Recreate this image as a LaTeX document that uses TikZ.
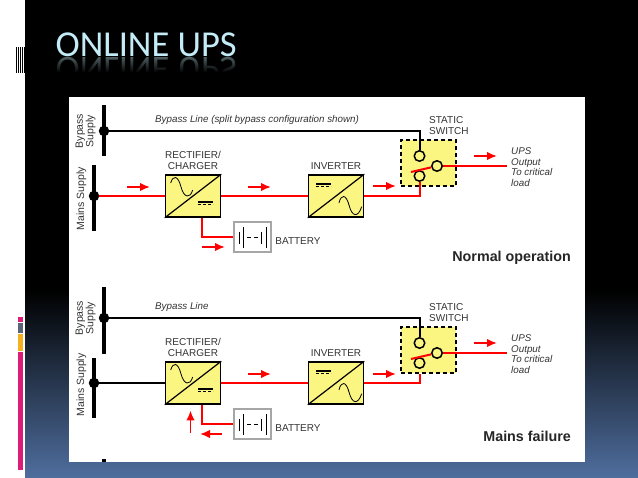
\documentclass[tikz,border=0pt]{standalone}
\usepackage{fontspec}
\setmainfont{Liberation Sans}
\newfontfamily\titlefont{Carlito}
\usetikzlibrary{positioning,arrows.meta,fadings}
\definecolor{boxyellow}{HTML}{FBF582}
\definecolor{labelgrey}{HTML}{333333}
\definecolor{titleblue}{HTML}{C4ECF6}
\definecolor{slateblue}{HTML}{4F6E9E}
\definecolor{barpink}{HTML}{DC1C78}
\definecolor{bargrey}{HTML}{5A6478}
\definecolor{barorange}{HTML}{F5B21E}
\tikzset{
  convbox/.style={draw=black,fill=boxyellow,line width=1.5pt,minimum width=55pt,minimum height=42pt,inner sep=0pt},
  swbox/.style={draw=black,fill=boxyellow,line width=1.5pt,dash pattern=on 4pt off 3pt,minimum width=55pt,minimum height=46pt,inner sep=0pt},
  battbox/.style={draw=black!35,fill=white,line width=1.4pt,minimum width=37pt,minimum height=30pt,inner sep=0pt},
  contact/.style={circle,draw=black,fill=boxyellow,line width=1.5pt,minimum size=10.5pt,inner sep=0pt},
  busdot/.style={circle,fill=black,minimum size=10.5pt,inner sep=0pt},
  busbar/.style={line width=3.4pt},
  wire/.style={line width=2pt},
  flow/.style={red,line width=1.8pt,-{Latex[length=10pt,width=8.5pt]}},
  lbl/.style={text=labelgrey,inner sep=0pt,font=\fontsize{10}{11}\selectfont},
  itlbl/.style={lbl,font=\fontsize{9.8}{10.6}\selectfont\itshape},
  headlbl/.style={text=black!85,inner sep=0pt,font=\fontsize{14.3}{16}\selectfont\bfseries}
}
\begin{document}
\begin{tikzpicture}[x=1pt,y=-1pt]
\useasboundingbox (0,0) rectangle (638,478);
% slide background
\fill[white] (0,0) rectangle (638,478);
\fill[black] (25,0) rectangle (638,290);
\shade[top color=black,bottom color=slateblue] (25,290) rectangle (638,478);
\foreach \x in {15.5,17.5,...,24}
\fill[black] (\x,47) rectangle +(1.1,26);
\fill[barpink] (18,317) rectangle (23,322);
\fill[bargrey] (18,323) rectangle (23,333);
\fill[barorange] (18,334) rectangle (23,351);
\fill[barpink] (18,352) rectangle (23,470);
% title and its reflection
\node[anchor=west,inner sep=0pt,text=titleblue,font=\fontsize{36.5}{40}\selectfont\titlefont] (title) at (55.5,45) {ONLINE UPS};
\node[anchor=west,inner sep=0pt,text=titleblue!40!black,yscale=-1,transform shape,font=\fontsize{36.5}{40}\selectfont\titlefont] (mirror) at (55.5,69) {ONLINE UPS};
\fill[black] (50,72) rectangle (245,85);
\fill[black,path fading=north] (50,57) rectangle (245,72.5);
% panel
\fill[white] (69,97) rectangle (585,462);
\foreach \k/\dy/\col/\ends in {a/0/red/swlow,b/187/black/swbot}{
\begin{scope}[yshift=-\dy pt]
\node[busdot] (bydot\k) at (104,131) {};
\node[busdot] (mdot\k) at (94,196) {};
\node[convbox] (rect\k) at (193,196) {};
\node[convbox] (inv\k) at (336,196) {};
\node[battbox] (batt\k) at (252.5,237) {};
\node[swbox] (sw\k) at (428.5,163) {};
\node[contact] (swup\k) at (419.5,156) {};
\node[contact] (swlow\k) at (419.5,176) {};
\node[contact] (swout\k) at (437,166) {};
\coordinate (swbot\k) at (sw\k.south -| swlow\k);
\coordinate (arm\k) at (411,172);
\coordinate (load\k) at (507,166);
\draw[wire] (bydot\k) -| (swup\k);
\draw[wire,\col] (mdot\k) -- (rect\k);
\draw[wire,red] (rect\k) -- (inv\k);
\draw[wire,red] (inv\k) -| (\ends\k);
\draw[wire,red] ([xshift=9pt]rect\k.south) |- (batt\k);
\draw[wire,red] (arm\k) -- (swout\k);
\draw[wire,red] (swout\k) -- (load\k);
% rectifier and inverter symbols
\draw[line width=1.2pt] (rect\k.south west) -- (rect\k.north east);
\draw[line width=1.2pt] (inv\k.south west) -- (inv\k.north east);
\draw[line width=.8pt] (170.7,183) .. controls (173,175) and (178,175) .. (181,187) .. controls (184,198) and (190,199) .. (192.7,190);
\draw[line width=.8pt] (339,203) .. controls (341,194) and (346,194) .. (349,205) .. controls (352,217) and (358,218) .. (361.7,206.7);
\foreach \x/\y in {198/202,316/184}{
\draw[line width=1.4pt] (\x,\y) -- +(15,0);
\draw[line width=1pt,dash pattern=on 3pt off 2pt] (\x,\y+2.8) -- +(15,0);
}
% battery symbol
\draw[line width=1pt] (239,232) -- (239,244);
\draw[line width=1.5pt] (243.7,227) -- (243.7,248);
\draw[line width=.9pt,dash pattern=on 4pt off 3pt] (247,237) -- (258,237);
\draw[line width=1pt] (261,232) -- (261,244);
\draw[line width=1.5pt] (266.7,227) -- (266.7,248);
% labels
\node[lbl,align=center,above=4.5pt of rect\k] (rectlbl\k) {RECTIFIER/\\CHARGER};
\node[lbl,above=4.5pt of inv\k] (invlbl\k) {INVERTER};
\node[lbl,right=3.5pt of batt\k,yshift=-4pt] (battlbl\k) {BATTERY};
\node[lbl,align=left,anchor=south west] (swlbl\k) at (429,135) {STATIC\\SWITCH};
\node[itlbl,align=left,anchor=west] (uplbl\k) at (511,167) {UPS\\Output\\To critical\\load};
\end{scope}
}
% what differs between the two cases
\draw[busbar] (104,105) -- (104,156.5);
\draw[busbar] (94,165) -- (94,231.5);
\draw[busbar] (104,287) -- (104,354);
\draw[busbar] (94,358) -- (94,418.5);
\draw[busbar] (104,459) -- (104,462);
\node[itlbl,anchor=west] (bylbla) at (155,120) {Bypass Line (split bypass configuration shown)};
\node[itlbl,anchor=west] (bylblb) at (155,307) {Bypass Line};
\node[headlbl,anchor=east] (heada) at (571,258) {Normal operation};
\node[headlbl,anchor=east] (headb) at (571,436) {Mains failure};
\foreach \n/\y in {a/131,b/318}
\node[lbl,align=center,rotate=90,font=\fontsize{10.5}{10.5}\selectfont] (bysup\n) at (85.5,\y) {Bypass\\Supply};
\foreach \n/\y in {a/198.5,b/385}
\node[lbl,rotate=90,font=\fontsize{10.5}{11}\selectfont] (msup\n) at (81.5,\y) {Mains Supply};
% flow arrows
\foreach \n/\x/\y in {1/127/187,2/248/187,3/373/186,4/474/156,5/202/247,6/248/374,7/373/374,8/474/343}{
\coordinate (fs\n) at (\x,\y);
\coordinate (fe\n) at (\x+23,\y);
\draw[flow] (fs\n) -- (fe\n);
}
\coordinate (fs9) at (190.5,433);
\coordinate (fe9) at (190.5,410.5);
\draw[flow] (fs9) -- (fe9);
\coordinate (fs10) at (222,434);
\coordinate (fe10) at (200,434);
\draw[flow] (fs10) -- (fe10);
\end{tikzpicture}
\end{document}
